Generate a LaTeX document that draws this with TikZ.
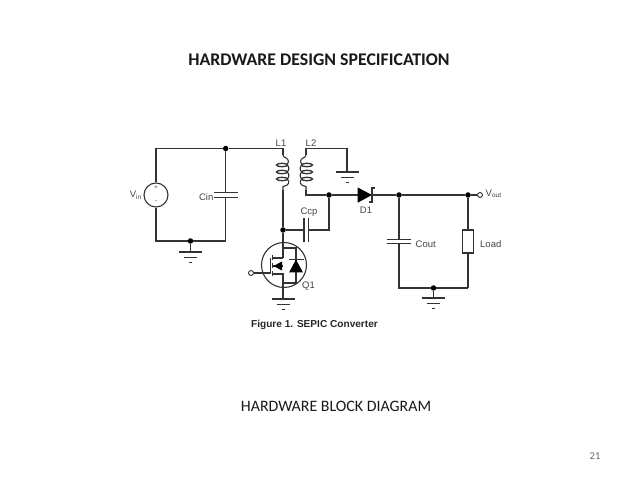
\documentclass[tikz,border=0pt]{standalone}
\usepackage{fontspec}
\setmainfont{Carlito}
\newfontfamily\arialf{Liberation Sans}
\definecolor{wire}{HTML}{333333}
\definecolor{lab}{HTML}{444444}
\tikzset{
  wr/.style={draw=wire,line width=1.1pt},
  dotj/.style={circle,fill=black,inner sep=0pt,minimum size=5.5pt},
  opn/.style={circle,draw=wire,fill=white,line width=0.9pt,inner sep=0pt,minimum size=5pt},
  lbl/.style={font=\arialf\fontsize{9.5}{11}\selectfont,text=lab,inner sep=0pt},
  gnd/.pic={\draw[wr] (-11.5,0)--(11.5,0) (-6.5,5.5)--(6.5,5.5) (-1.5,10.5)--(1.5,10.5);},
  loop/.style={draw=wire,line width=1.3pt,x radius=5.5,y radius=1.7}
}
\begin{document}
\begin{tikzpicture}[x=1pt,y=-1pt]
\useasboundingbox (0,0) rectangle (638,478);
% named points
\coordinate (tl) at (156,148.5);
\coordinate (bl) at (156,241);
\node[dotj] (jtop) at (225.7,148.5) {};
\node[dotj] (jbot) at (190.5,241) {};
\coordinate (br) at (225.7,241);
\coordinate (l1t) at (283,148.5);
\coordinate (l1a) at (283,155);
\coordinate (l1b) at (283,190);
\node[dotj] (jcp) at (283,230) {};
\coordinate (l2t) at (306,148.5);
\coordinate (l2a) at (306,155);
\coordinate (l2b) at (306,190);
\coordinate (l2c) at (306,195);
\coordinate (g2t) at (347,148.5);
\coordinate (g2) at (347,172);
\node[dotj] (jsw) at (329,195) {};
\coordinate (cpr) at (329,230);
\node[dotj] (jc) at (399,195) {};
\node[dotj] (jl) at (468,195) {};
\node[opn] (vout) at (480,195) {};
\coordinate (cob) at (399,288);
\coordinate (lob) at (468,288);
\node[dotj] (jg) at (433.5,288) {};
\coordinate (g3) at (433.5,298);
\coordinate (g1) at (190.5,252);
\coordinate (g4) at (283,299);
% source
\node[circle,draw=wire,line width=1.1pt,minimum size=24pt,inner sep=0pt] (vs) at (156,195) {};
\draw[wr] (vs.north) -- (tl) -- (jtop) -- (l1t) -- (l1a);
\draw[wr] (vs.south) -- (bl) -- (jbot) -- (br);
\node[lbl,font=\arialf\fontsize{6.5}{6.5}\selectfont] at (156,188) {+};
\node[lbl,font=\arialf\fontsize{6.5}{6.5}\selectfont] at (156,202) {-};
\draw[wr] (jbot) -- (g1);
\pic at (g1) {gnd};
% Cin
\coordinate (cint) at (225.7,192.5);
\coordinate (cinb) at (225.7,197.5);
\draw[wr] (jtop) -- (cint) (cinb) -- (br);
\draw[wr] (214,192.5) -- (237.5,192.5) (214,197.5) -- (237.5,197.5);
% L1 coil
\draw[wr] (l1a) .. controls (283,158) and (288.5,157.5) .. (288.5,161.5)
  .. controls (288.5,163) and (288,164) .. (287,165);
\draw[wr] (287,165) .. controls (289.5,167) and (289.5,170) .. (287,172);
\draw[wr] (287,172) .. controls (289.5,174) and (289.5,177) .. (287,179);
\draw[wr] (287,179) .. controls (290,181) and (289.5,186) .. (283,186.5) -- (l1b);
\draw[loop] (282,165) ellipse [];
\draw[loop] (282,172) ellipse [];
\draw[loop] (282,179) ellipse [];
\draw[wr] (l1b) -- (jcp) -- (283,243);
% L2 coil
\draw[wr] (l2a) .. controls (306,158) and (300.5,157.5) .. (300.5,161.5)
  .. controls (300.5,163) and (301,164) .. (302,165);
\draw[wr] (302,165) .. controls (299.5,167) and (299.5,170) .. (302,172);
\draw[wr] (302,172) .. controls (299.5,174) and (299.5,177) .. (302,179);
\draw[wr] (302,179) .. controls (299,181) and (299.5,186) .. (306,186.5) -- (l2b);
\draw[loop] (307,165) ellipse [];
\draw[loop] (307,172) ellipse [];
\draw[loop] (307,179) ellipse [];
\draw[wr] (l2a) -- (l2t) -- (g2t) -- (g2);
\pic at (g2) {gnd};
\draw[wr] (l2b) -- (l2c) -- (jsw);
% Ccp
\draw[wr] (jcp) -- (304,230) (308.7,230) -- (cpr) -- (jsw);
\draw[wr] (304,218) -- (304,242) (308.7,218) -- (308.7,242);
% diode D1
\coordinate (da) at (357.7,195);
\coordinate (dk) at (372,195);
\draw[wr] (jsw) -- (da) (dk) -- (jc) -- (jl) -- (vout);
\fill[black] (357.7,187.5) -- (372,195) -- (357.7,202.7) -- cycle;
\draw[wr] (374.5,188) -- (372,188) -- (372,202) -- (369,202);
% Cout
\draw[wr] (jc) -- (399,239.5) (399,243.5) -- (cob) -- (jg) -- (lob);
\draw[wr] (387,239.5) -- (411,239.5) (387,243.5) -- (411,243.5);
% Load
\node[draw=wire,line width=1.1pt,minimum width=11.5pt,minimum height=23pt,inner sep=0pt] (load) at (468,241.5) {};
\draw[wr] (jl) -- (load.north) (load.south) -- (lob);
\draw[wr] (jg) -- (g3);
\pic at (g3) {gnd};
% MOSFET
\node[circle,draw=wire,line width=1.1pt,minimum size=45pt,inner sep=0pt] (q) at (284,265) {};
\node[opn] (gate) at (251,273) {};
\coordinate (gi) at (270.5,273);
\draw[wr] (gate) -- (gi) -- (270.5,258);
\draw[wr] (272.8,255.5) -- (272.8,260.5) (272.8,263.5) -- (272.8,268.5) (272.8,271.5) -- (272.8,276.5);
\draw[wr] (272.8,258) -- (283,258) (283,243) -- (283,258);
\draw[wr] (272.8,274) -- (283,274) -- (283,299);
\draw[wr] (272.8,266) -- (283,266);
\fill[black] (273.5,266) -- (282,261.5) -- (282,270.5) -- cycle;
\draw[wr] (283,248) -- (296,248) -- (296,283) -- (283,283);
\fill[black] (296,259.5) -- (303,272.5) -- (289,272.5) -- cycle;
\draw[wr] (288.5,259.5) -- (303.5,259.5);
\pic at (g4) {gnd};
% labels
\node[lbl,anchor=east] at (141.5,195) {V\raisebox{-1.5pt}{\fontsize{6.5}{6.5}\selectfont in}};
\node[lbl,anchor=east] at (213.5,197) {Cin};
\node[lbl] at (281,143) {L1};
\node[lbl] at (311,143) {L2};
\node[lbl] at (309,212) {Ccp};
\node[lbl] at (366,210) {D1};
\node[lbl,anchor=west] at (415.5,244) {Cout};
\node[lbl,anchor=west] at (480,244) {Load};
\node[lbl,anchor=west] at (485.5,194) {V\raisebox{-1.5pt}{\fontsize{6.5}{6.5}\selectfont out}};
\node[lbl] at (308.5,286.5) {Q1};
\node[font=\arialf\bfseries\fontsize{10.1}{12}\selectfont,text=black!85,inner sep=0pt] at (314.5,325) {Figure 1. SEPIC Converter};
\node[font=\bfseries\fontsize{17.8}{20}\selectfont,text=black!90,inner sep=0pt] at (319,60) {HARDWARE DESIGN SPECIFICATION};
\node[font=\fontsize{15.9}{18}\selectfont,text=black!90,inner sep=0pt] at (336,406) {HARDWARE BLOCK DIAGRAM};
\node[font=\fontsize{10.5}{12}\selectfont,text=black!60,inner sep=0pt] at (595,456) {21};
\end{tikzpicture}
\end{document}
